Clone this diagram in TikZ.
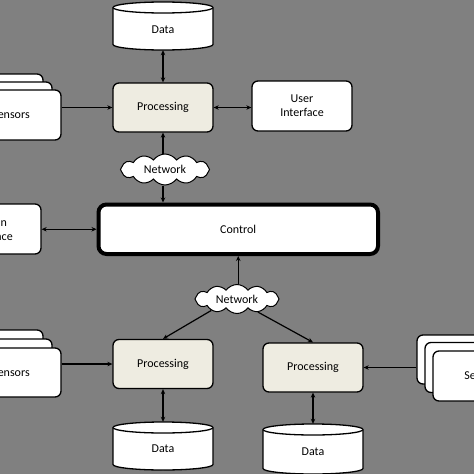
\documentclass[tikz,border=0pt]{standalone}
\usepackage{fontspec}
\setmainfont{Carlito}
\usetikzlibrary{shapes.symbols,arrows.meta}
\definecolor{bg}{HTML}{808080}
\definecolor{procfill}{HTML}{EEECE1}
\newcommand\mycyl[3]{%
  \filldraw[cylline] (#1-50,#2) -- (#1-50,#3)
    arc[start angle=180,end angle=360,x radius=50pt,y radius=5.5pt]
    -- (#1+50,#2)
    arc[start angle=0,end angle=180,x radius=50pt,y radius=5.5pt] -- cycle;
  \draw[cylline] (#1-50,#2) arc[start angle=180,end angle=360,x radius=50pt,y radius=5.5pt];
}
\begin{document}
\begin{tikzpicture}[x=1pt,y=-1pt,
  lbl/.style={font=\fontsize{12}{14}\selectfont},
  box/.style={lbl,draw,line width=1.3pt,rounded corners=6pt,fill=white,
    minimum width=100pt,minimum height=50pt,inner sep=2pt,align=center},
  proc/.style={box,fill=procfill,minimum height=49pt},
  ctrlbox/.style={box,line width=4pt,rounded corners=8pt,minimum width=279.5pt,minimum height=49.5pt},
  net/.style={lbl,cloud,draw,fill=white,line width=1pt,cloud puffs=12,cloud puff arc=110,
    cloud ignores aspect,inner sep=0pt},
  cylline/.style={draw,line width=1.3pt,fill=white},
  datalbl/.style={lbl,minimum width=100pt,inner sep=0pt},
  conn/.style={line width=1.2pt},
  >={Stealth[length=5pt,width=4.5pt]}]
\fill[bg] (0,0) rectangle (474,474);
\useasboundingbox (0,0) rectangle (474,474);
\clip (0,0) rectangle (474,474);

% top group
\mycyl{163}{7.5}{44.5}
\node[datalbl,minimum height=40pt] (data1) at (163,30) {Data};
\node[proc] (proc1) at (163,107.5) {Processing};
\node[box] (ui) at (302,106) {User\\Interface};
\node[box] (sens1c) at (-7,99) {};
\node[box] (sens1b) at (2,107) {};
\node[box] (sens1) at (11,115) {Sensors};
\node[net,minimum width=89pt,minimum height=31pt] (cloud1) at (165,169.5) {Network};

% control
\node[ctrlbox] (control) at (238.25,229.25) {Control};
\node[box] (admin) at (-9,229) {Admin\\Interface};
\node[net,minimum width=84pt,minimum height=29pt] (cloud2) at (237,299) {Network};

% lower left
\node[box] (sens2c) at (-7,355) {};
\node[box] (sens2b) at (2,364) {};
\node[box,minimum height=49pt] (sens2) at (11,372.5) {Sensors};
\node[proc] (proc2) at (163,364) {Processing};
\mycyl{163}{427.5}{464.5}
\node[datalbl,minimum height=54pt] (data2) at (163,449) {Data};

% lower right
\node[box,minimum height=49pt] (sens3c) at (467,359.5) {};
\node[box] (sens3b) at (475,367.5) {};
\node[box] (sens3) at (483,376) {Sensors};
\node[proc] (proc3) at (313,367.5) {Processing};
\mycyl{313}{429.5}{468.5}
\node[datalbl,minimum height=56pt] (data3) at (313,452) {Data};

% connectors
\draw[conn,<->] (data1.south) -- (proc1.north);
\draw[conn,->] (sens1.east |- proc1.west) -- (proc1.west);
\draw[conn,<->] (proc1.east) -- (proc1.east -| ui.west);
\draw[conn,->] (cloud1.north -| proc1.south) -- (proc1.south);
\draw[conn,->] (cloud1.south -| proc1.south) -- (control.north -| proc1.south);
\draw[conn,<->] (control.west) -- (control.west -| admin.east);
\draw[conn,->] (cloud2.north -| control.south) -- (control.south);
\draw[conn,->] (cloud2.204) -- (proc2.north);
\draw[conn,->] (cloud2.328) -- (proc3.north);
\draw[conn,->] (sens2.east |- proc2.west) -- (proc2.west);
\draw[conn,->] (sens3c.west |- proc3.east) -- (proc3.east);
\draw[conn,<->] (proc2.south) -- (data2.north);
\draw[conn,<->] (proc3.south) -- (data3.north);
\end{tikzpicture}
\end{document}
